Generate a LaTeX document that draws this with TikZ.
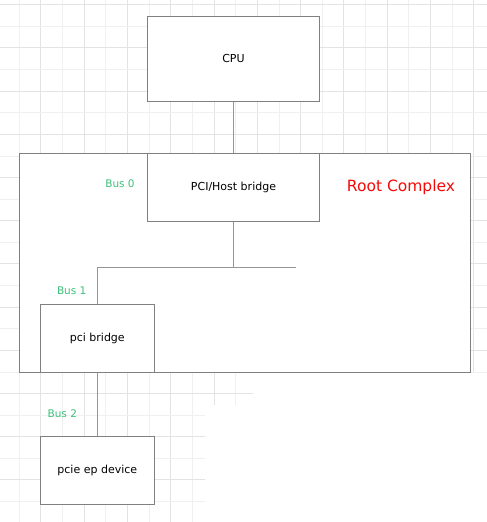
\documentclass[tikz,border=0pt]{standalone}
\usepackage{fontspec}
\setmainfont{DejaVu Sans}
\usetikzlibrary{positioning}
\definecolor{busGreen}{RGB}{62,192,122}
\definecolor{rcRed}{RGB}{245,10,10}
\definecolor{boxGray}{RGB}{128,128,128}
\definecolor{wireGray}{RGB}{150,150,150}
\tikzset{
  blk/.style={draw=boxGray, line width=0.9pt, fill=white, inner sep=0pt,
    font=\fontsize{11}{13}\selectfont},
  wire/.style={draw=wireGray, line width=0.9pt},
  buslbl/.style={text=busGreen, inner sep=0pt, font=\fontsize{10.5}{12}\selectfont},
  gridmin/.style={black!6, line width=0.6pt},
  gridmaj/.style={black!11, line width=0.7pt},
}

\begin{document}
\begin{tikzpicture}[x=1pt, y=-1pt]
    \useasboundingbox (0,0) rectangle (487,522);
    % background grid of the drawing canvas
    \foreach \k in {0,...,22} {
      \pgfmathsetmacro{\gx}{19+21.65*\k}
      \ifodd\k
        \draw[gridmaj] (\gx,0) -- (\gx,522);
      \else
        \draw[gridmin] (\gx,0) -- (\gx,522);
      \fi
    }
    \foreach \k in {0,...,24} {
      \pgfmathsetmacro{\gy}{4.6+21.6*\k}
      \ifodd\k
        \draw[gridmin] (0,\gy) -- (487,\gy);
      \else
        \draw[gridmaj] (0,\gy) -- (487,\gy);
      \fi
    }
    \fill[white] (253,373) -- (487,373) -- (487,522) -- (205,522)
      -- (205,405) -- (253,405) -- cycle;

    % root complex frame
    \node[blk, minimum width=451.7pt, minimum height=218.7pt] (rc) at (244.85,262.65) {};
    \node[text=rcRed, inner sep=0pt, font=\fontsize{15.5}{18}\selectfont] (rclbl) at (401,187.7) {Root Complex};

    % boxes
    \node[blk, minimum width=171.6pt, minimum height=85pt] (cpu) at (233.5,58.8) {CPU};
    \node[blk, minimum width=171.6pt, minimum height=67.7pt] (host) at (233.5,187.2) {PCI/Host bridge};
    \node[blk, minimum width=114pt, minimum height=67.7pt] (pcib) at (97.3,338.2) {pci bridge};
    \node[blk, minimum width=114pt, minimum height=67.7pt] (ep) at (97.3,470.2) {pcie ep device};

    % bus labels
    \node[buslbl] (bus0) at (120,183.3) {Bus 0};
    \node[buslbl] (bus1) at (71.7,291) {Bus 1};
    \node[buslbl] (bus2) at (62.3,413.3) {Bus 2};

    % connections
    \coordinate (busL) at (97.3,267.7);
    \coordinate (busR) at (296,267.7);
    \draw[wire] (cpu.south) -- (host.north);
    \draw[wire] (host.south) -- (host.south |- busL);
    \draw[wire] (busR) -- (busL) -- (pcib.north);
    \draw[wire] (pcib.south) -- (ep.north);
\end{tikzpicture}
\end{document}
